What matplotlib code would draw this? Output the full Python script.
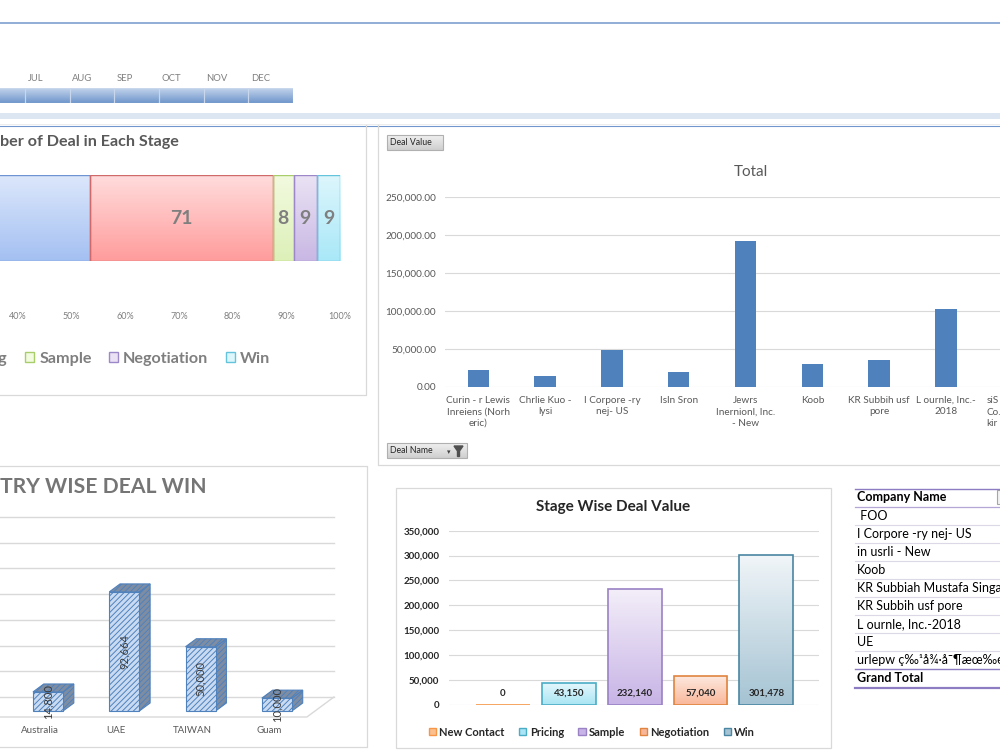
import numpy as np
import matplotlib
matplotlib.use("Agg")
import matplotlib.pyplot as plt
from matplotlib.colors import LinearSegmentedColormap
from matplotlib.patches import Rectangle, Polygon, Patch

plt.rcParams['font.family'] = ['Lato', 'DejaVu Sans']
plt.rcParams['hatch.linewidth'] = 0.7

W, H = 1000, 750

# ---- data ----
months = ['JUN', 'JUL', 'AUG', 'SEP', 'OCT', 'NOV', 'DEC']

stages = ['New Contact', 'Pricing', 'Sample', 'Negotiation', 'Win']
stage_counts = [111, 71, 8, 9, 9]
stage_values = [0, 43150, 232140, 57040, 301478]

deal_names = ['Curin - r Lewis\nInreiens (Norh\neric)', 'Chrlie Kuo -\nlysi', 'I Corpore -ry\nnej- US',
              'Isln Sron', 'Jewrs\nInernionl, Inc.\n- New', 'Koob', 'KR Subbih usf\npore',
              'L ournle, Inc.-\n2018']
deal_values = [22300, 14400, 48900, 19700, 191800, 30600, 35800, 102300]
cut_deal_label = 'siS\nCo.,\nkir'

countries = ['Australia', 'UAE', 'TAIWAN', 'Guam']
country_wins = [14800, 92664, 50000, 10000]

company_names = [' FOO', 'I Corpore -ry nej- US', 'in usrli - New', 'Koob', 'KR Subbiah Mustafa Singa',
                 'KR Subbih usf pore', 'L ournle, Inc.-2018', 'UE', 'urlepw ç‰¹å¾·å¯¶æœ‰é']


def rect(x0, y0, x1, y1):
    # pixel box (top-left origin) -> figure fraction
    return [x0 / W, 1 - y1 / H, (x1 - x0) / W, (y1 - y0) / H]


def fill_gradient(ax, patch, top, bottom):
    h = patch.get_height()
    if h == 0:
        return
    cmap = LinearSegmentedColormap.from_list('g', [top, bottom])
    x0, y0, w = patch.get_x(), patch.get_y(), patch.get_width()
    im = ax.imshow(np.linspace(0, 1, 100).reshape(-1, 1), cmap=cmap, aspect='auto',
                   extent=(x0, x0 + w, y0, y0 + h), origin='upper', zorder=patch.get_zorder() - 0.1)
    im.set_clip_path(patch)


fig = plt.figure(figsize=(10, 7.5), dpi=100)

# background layer in pixel coordinates
bg = fig.add_axes([0, 0, 1, 1])
bg.set_xlim(0, W)
bg.set_ylim(H, 0)
bg.axis('off')

bg.plot([0, W], [23, 23], color='#7F9FCF', lw=1.2)
bg.add_patch(Rectangle((0, 113), W, 6, color='#DCE6F2', lw=0))
bg.plot([0, W], [124, 124], color='#EDEDED', lw=0.7)
bg.plot([0, W], [125.5, 125.5], color='#7096CE', lw=0.8)

box = dict(color='#D9D9D9', lw=0.9)
bg.plot([365.5, 365.5, 0], [125, 394.5, 394.5], **box)
bg.plot([377.5, 377.5, W], [125, 465, 465], **box)
bg.plot([0, 367, 367, 0], [465.5, 465.5, 747, 747], **box)
bg.add_patch(Rectangle((396, 488), 435, 260, fill=False, ec='#D9D9D9', lw=0.9))

# ---- month timeline ----
ax_s = fig.add_axes(rect(25 - 44.66, 88, 293, 103))
ax_s.set_facecolor('none')
slots = ax_s.bar(np.arange(len(months)), 1, width=1, align='edge', facecolor='none',
                 edgecolor='#C8D7EC', lw=0.8, zorder=3)
for p in slots:
    fill_gradient(ax_s, p, '#C3D4EC', '#6F96CB')
for i, m in enumerate(months):
    ax_s.annotate(m, (i, 1), xytext=(2, 7), textcoords='offset points', ha='left', va='center',
                  fontsize=6.8, color='#7F7F7F', annotation_clip=False)
ax_s.set_xlim(0, len(months))
ax_s.set_ylim(0, 1)
ax_s.axis('off')

# ---- number of deal in each stage ----
bar_top = ['#DCE7FB', '#FFDCDC', '#F2FADF', '#EAE2F4', '#DDF6FC']
bar_bot = ['#A4C0F2', '#FF9C9C', '#DDF0B8', '#C9B8E4', '#A9E8F8']
bar_edge = ['#6F94D2', '#D06A6A', '#A9CD6A', '#9C88C8', '#63C4DC']
total = sum(stage_counts)
shares = np.array(stage_counts) / total
lefts = np.concatenate([[0], np.cumsum(shares)[:-1]])

ax1 = fig.add_axes(rect(-197, 175, 340, 261))
ax1.set_facecolor('none')
segs = ax1.barh(0, shares, left=lefts, height=1, facecolor='none', edgecolor=bar_edge, lw=1, zorder=3)
for p, t, b in zip(segs, bar_top, bar_bot):
    fill_gradient(ax1, p, t, b)
for l, s, c in zip(lefts, shares, stage_counts):
    ax1.text(l + s / 2, 0, str(c), ha='center', va='center', fontsize=14, fontweight='bold',
             color='#7F7F7F', zorder=4)
ax1.set_xlim(0, 1)
ax1.set_ylim(-0.5, 0.5)
ticks = np.arange(0, 11) / 10
ax1.set_xticks(ticks)
ax1.set_xticklabels([f'{int(round(t * 100))}%' for t in ticks])
ax1.tick_params(axis='x', length=0, pad=37, labelsize=6.5, labelcolor='#7F7F7F')
ax1.set_yticks([])
for s in ax1.spines.values():
    s.set_visible(False)

bg.text(0, 142, 'ber of Deal in Each Stage', ha='left', va='center', fontsize=11.6,
        fontweight='bold', color='#595959')

handles1 = [Patch(facecolor=t, edgecolor=e, lw=1) for t, e in zip(bar_top, bar_edge)]
fig.legend(handles1, stages, loc='center right', bbox_to_anchor=(270 / W, 1 - 359 / H), ncol=5,
           frameon=False, prop={'weight': 'bold', 'size': 11.6}, labelcolor='#7F7F7F',
           handlelength=0.55, handleheight=0.55, handletextpad=0.3, columnspacing=1.1,
           borderpad=0, borderaxespad=0)

# ---- pivot chart: deal value per deal ----
ax2 = fig.add_axes(rect(445, 197, W, 387))
ax2.set_facecolor('none')
xd = np.arange(len(deal_values))
ax2.bar(xd, deal_values, width=0.32, color='#4F81BD', zorder=3)
ax2.set_xlim(-0.5, 7.81)
ax2.set_ylim(0, 250000)
ax2.set_yticks(np.arange(0, 250001, 50000))
ax2.set_yticklabels([f'{v:,.2f}' for v in np.arange(0, 250001, 50000)])
ax2.tick_params(axis='y', length=0, pad=6.5, labelsize=7.2, labelcolor='#595959')
ax2.set_xticks([])
ax2.yaxis.grid(True, color='#D9D9D9', lw=0.8)
ax2.set_axisbelow(True)
for s in ax2.spines.values():
    s.set_visible(False)
for i, name in enumerate(deal_names):
    ax2.annotate(name, (i, 0), xycoords=('data', 'axes fraction'), xytext=(0, -6.5),
                 textcoords='offset points', ha='center', va='top', fontsize=7.2,
                 color='#595959', linespacing=1.35)
ax2.annotate(cut_deal_label, (len(deal_names) - 0.39, 0), xycoords=('data', 'axes fraction'),
             xytext=(0, -6.5), textcoords='offset points', ha='left', va='top', fontsize=7.2,
             color='#595959', linespacing=1.35, annotation_clip=False)

bg.text(751, 172, 'Total', ha='center', va='center', fontsize=11, color='#595959')
for (x0, y0, x1, y1), label in [((387, 135, 443, 150), 'Deal Value'), ((387, 443, 467, 458), 'Deal Name')]:
    btn = Rectangle((x0, y0), x1 - x0, y1 - y0, facecolor='none', edgecolor='#B0B0B0', lw=0.8, zorder=3)
    bg.add_patch(btn)
    im = bg.imshow(np.linspace(0, 1, 50).reshape(-1, 1),
                   cmap=LinearSegmentedColormap.from_list('b', ['#F0F0F0', '#CFCFCF']),
                   aspect='auto', extent=(x0, x1, y1, y0), zorder=2)
    im.set_clip_path(btn)
    bg.text(x0 + 3, (y0 + y1) / 2, label, ha='left', va='center', fontsize=6.3, color='#262626', zorder=4)
bg.text(449, 452, '▾', ha='center', va='center', fontsize=5, color='#404040', zorder=4)
bg.add_patch(Polygon([(454, 446), (463, 446), (459.5, 451), (459.5, 456.5), (457.5, 456.5), (457.5, 451)],
                     closed=True, color='#505050', zorder=4))
bg.set_xlim(0, W)
bg.set_ylim(H, 0)

# ---- country wise deal win (3d columns) ----
ax3 = fig.add_axes(rect(0, 500, 365, 745))
ax3.set_facecolor('none')
ax3.axis('off')
px_cat = 76.3
px_val = 0.001285
dxp = 1.35 / px_cat
dvp = 1 / px_val
half = 0.197
x_left = -0.629
right = len(countries) - 0.5
wall_x, wall_v = 14 * dxp, 14 * dvp
floor_x, floor_v = -6 * dxp, -6 * dvp
bar_x, bar_v = 8 * dxp, 8 * dvp
for k in range(8):
    ax3.plot([x_left, right + wall_x], [wall_v + k * 20000] * 2, color='#D9D9D9', lw=1, zorder=1)
ax3.plot([x_left, right + floor_x, right + wall_x], [floor_v, floor_v, wall_v], color='#D9D9D9', lw=1, zorder=1)
xc = np.arange(len(countries))
for i, v in zip(xc, country_wins):
    side = [(i + half, 0), (i + half + bar_x, bar_v), (i + half + bar_x, v + bar_v), (i + half, v)]
    top = [(i - half, v), (i + half, v), (i + half + bar_x, v + bar_v), (i - half + bar_x, v + bar_v)]
    for pts in (side, top):
        ax3.add_patch(Polygon(pts, closed=True, facecolor='#7F8DA2', edgecolor='#4F81BD',
                              hatch='//////', lw=0.8, zorder=2))
ax3.bar(xc, country_wins, width=2 * half, facecolor='#C9DBF2', edgecolor='#4F81BD',
        hatch='//////', lw=0.8, zorder=3)
for i, v, c in zip(xc, country_wins, countries):
    ax3.text(i, v / 2, f'{v:,}', rotation=90, ha='center', va='center', fontsize=8,
             color='#3A3A3A', zorder=4)
    ax3.annotate(c, (i + floor_x, floor_v), xytext=(0, -9.4), textcoords='offset points',
                 ha='center', va='center', fontsize=7, color='#595959')
ax3.set_xlim(x_left, 4.155)
ax3.set_ylim(-26460, 164200)

bg.text(0, 487, 'TRY WISE DEAL WIN', ha='left', va='center', fontsize=15.2, fontweight='bold',
        color='#757575')

# ---- stage wise deal value ----
val_top = ['#FDE9D9', '#E4F7FC', '#F3EEF9', '#FDE8DE', '#F0F5F8']
val_bot = ['#FAC090', '#A9E5F4', '#C8B4E6', '#F9B79A', '#A5C3D3']
val_edge = ['#F79646', '#4BACC6', '#9A82C4', '#E0843F', '#4A86A2']
ax4 = fig.add_axes(rect(449, 530.7, 819, 704.5))
ax4.set_facecolor('none')
xs = np.arange(len(stage_values))
cols = ax4.bar(xs, stage_values, width=0.82, facecolor='none', edgecolor=val_edge, lw=1.2, zorder=3)
for p, t, b in zip(cols, val_top, val_bot):
    fill_gradient(ax4, p, t, b)
for i, v in zip(xs, stage_values):
    ax4.annotate(f'{v:,}', (i, 0), xytext=(0, 5), textcoords='offset points', ha='center', va='bottom',
                 fontsize=7, fontweight='bold', color='#262626', zorder=4)
ax4.set_xlim(-0.82, 4.80)
ax4.set_ylim(0, 350000)
ax4.set_yticks(np.arange(0, 350001, 50000))
ax4.set_yticklabels([f'{v:,}' for v in np.arange(0, 350001, 50000)], fontweight='bold')
ax4.tick_params(axis='y', length=0, pad=7, labelsize=7, labelcolor='#262626')
ax4.set_xticks([])
ax4.yaxis.grid(True, color='#D9D9D9', lw=0.8)
ax4.set_axisbelow(True)
for s in ax4.spines.values():
    s.set_visible(False)

bg.text(613, 507, 'Stage Wise Deal Value', ha='center', va='center', fontsize=11,
        fontweight='bold', color='#262626')
handles4 = [Patch(facecolor=b, edgecolor=e, lw=1) for b, e in zip(val_bot, val_edge)]
fig.legend(handles4, stages, loc='center', bbox_to_anchor=(592 / W, 1 - 732 / H), ncol=5,
           frameon=False, prop={'weight': 'bold', 'size': 8}, labelcolor='#262626',
           handlelength=0.65, handleheight=0.65, handletextpad=0.3, columnspacing=1.3,
           borderpad=0, borderaxespad=0)

# ---- pivot table ----
purple = '#8E7CC3'
bg.plot([855, W], [488.5, 488.5], color=purple, lw=1)
bg.text(857, 497, 'Company Name', ha='left', va='center', fontsize=9, fontweight='bold', color='#000000')
bg.add_patch(Rectangle((997, 490), 12, 14, facecolor='#F2F2F2', edgecolor='#A6A6A6', lw=0.8))
bg.plot([855, W], [506.5, 506.5], color='#B4A7D6', lw=0.9)
for k, name in enumerate(company_names):
    y = 516 + 18 * k
    bg.text(857, y, name, ha='left', va='center', fontsize=9, color='#000000')
    if k < len(company_names) - 1:
        bg.plot([855, W], [y + 9, y + 9], color='#DCD8E8', lw=0.8)
y_gt = 516 + 18 * len(company_names)
bg.plot([855, W], [y_gt - 9, y_gt - 9], color=purple, lw=1)
bg.text(857, y_gt, 'Grand Total', ha='left', va='center', fontsize=9, fontweight='bold', color='#000000')
bg.plot([855, W], [y_gt + 9.5, y_gt + 9.5], color=purple, lw=1.6)

bg.set_xlim(0, W)
bg.set_ylim(H, 0)

fig.savefig('out.png', dpi=100)
